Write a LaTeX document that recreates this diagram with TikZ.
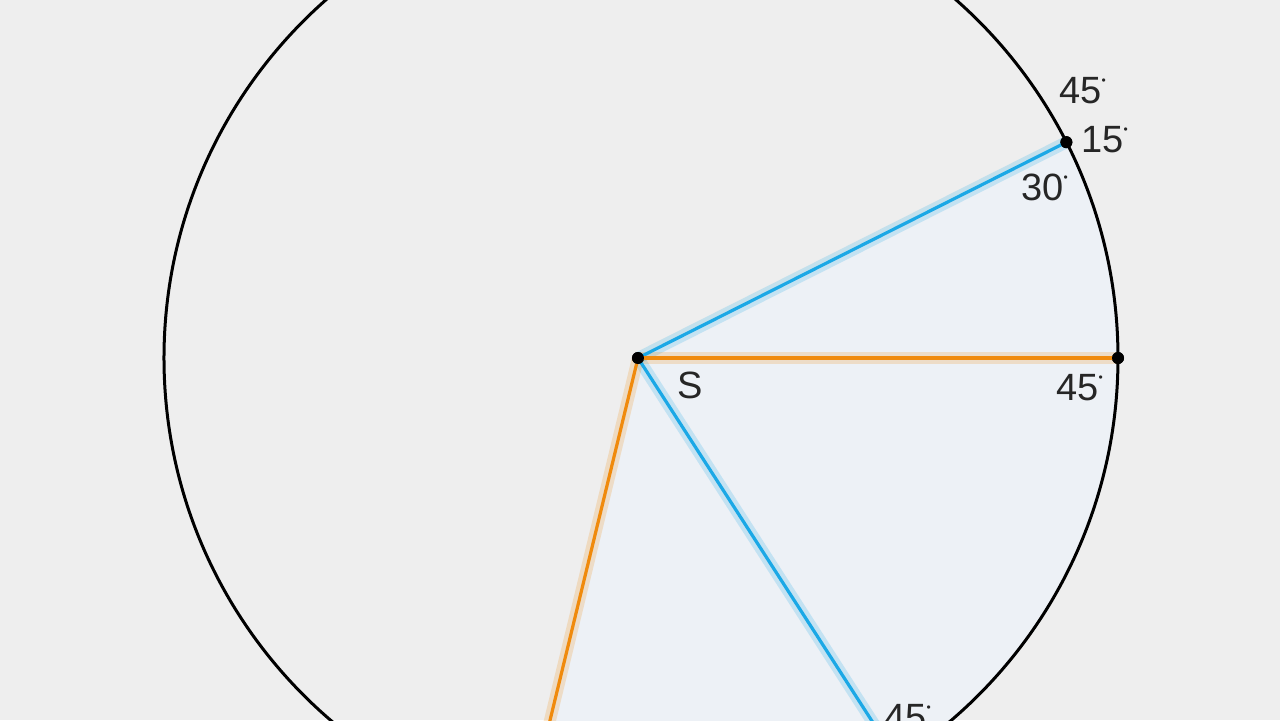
\documentclass[tikz,border=0pt]{standalone}
\usepackage{fontspec}
\setmainfont{Liberation Sans}
\usetikzlibrary{calc}
\definecolor{bgcol}{HTML}{EEEEEE}
\definecolor{sectorcol}{HTML}{EDF1F6}
\definecolor{rayblue}{HTML}{1BA8E6}
\definecolor{rayorange}{HTML}{F08A0C}
\newcommand{\degdot}{\raisebox{0.5em}{\fontsize{6}{6}\selectfont •}}
\begin{document}
\begin{tikzpicture}[x=0.5pt, y=0.5pt,
        font=\fontsize{19}{22}\selectfont,
        dot/.style={circle, fill=black, inner sep=0pt, minimum size=6pt},
        lab/.style={anchor=base west, inner sep=0pt, text=black!85},
        blueray/.style={draw=rayblue, line width=1.6pt},
        orangeray/.style={draw=rayorange, line width=1.6pt},
        glowblue/.style={draw=rayblue, line width=6pt, opacity=0.2},
        gloworange/.style={draw=rayorange, line width=6pt, opacity=0.2}]
    \fill[bgcol] (-640,-362) rectangle (640,358);
    \useasboundingbox (-640,-362) rectangle (640,358);
    \clip (-640,-362) rectangle (640,358);

    \coordinate (O) at (1,0);
    \coordinate (A) at ($(O)+(26.9:477)$);
    \coordinate (B) at ($(O)+(0:477)$);
    \coordinate (C) at ($(O)+(-57.5:477)$);
    \coordinate (D) at ($(O)+(-104:477)$);

    % shaded sector
    \fill[sectorcol] (O) -- (A) arc[start angle=26.9, end angle=-104, radius=477] -- cycle;

    \draw[black, line width=1.5pt] (O) circle (477);

    \node[dot] (S) at (-2,0) {};
    \node[dot] (P) at (A) {};
    \node[dot] (Q) at (B) {};

    \draw[glowblue] (S.center) -- (P.center);
    \draw[glowblue] (S.center) -- (C);
    \draw[gloworange] (S.center) -- (Q.center);
    \draw[gloworange] (S.center) -- (D);

    \draw[blueray] (S.center) -- (P.center);
    \draw[blueray] (S.center) -- (C);
    \draw[orangeray] (S.center) -- (Q.center);
    \draw[orangeray] (S.center) -- (D);

    \node[dot] at (S) {};
    \node[dot] at (P) {};
    \node[dot] at (Q) {};

    \node[lab] (a45) at (419,255) {45\degdot};
    \node[lab] (a15) at (441,206) {15\degdot};
    \node[lab] (a30) at (381,158) {30\degdot};
    \node[lab] (s) at (37,-40) {S};
    \node[lab] (b45) at (416,-42) {45\degdot};
    \node[lab] (c45) at (244,-372) {45\degdot};
\end{tikzpicture}
\end{document}
